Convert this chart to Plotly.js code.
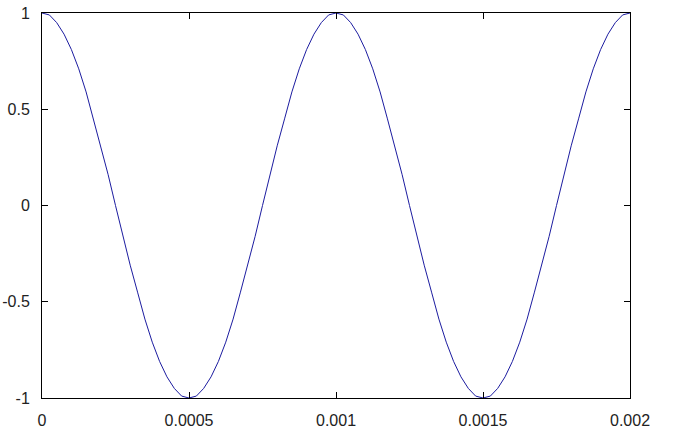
<!DOCTYPE html>
<html>
<head>
<meta charset="utf-8">
<script src="https://cdn.plot.ly/plotly-3.0.1.min.js"></script>
<style>html,body{margin:0;padding:0;background:#fff;}#chart{width:675px;height:440px;}</style>
</head>
<body>
<div id="chart"></div>
<script>
// time samples (s)
var timeValues = [
  0, 0.000025, 0.00005, 0.000075, 0.0001, 0.000125, 0.00015, 0.000175, 0.0002, 0.000225,
  0.00025, 0.000275, 0.0003, 0.000325, 0.00035, 0.000375, 0.0004, 0.000425, 0.00045, 0.000475,
  0.0005, 0.000525, 0.00055, 0.000575, 0.0006, 0.000625, 0.00065, 0.000675, 0.0007, 0.000725,
  0.00075, 0.000775, 0.0008, 0.000825, 0.00085, 0.000875, 0.0009, 0.000925, 0.00095, 0.000975,
  0.001, 0.001025, 0.00105, 0.001075, 0.0011, 0.001125, 0.00115, 0.001175, 0.0012, 0.001225,
  0.00125, 0.001275, 0.0013, 0.001325, 0.00135, 0.001375, 0.0014, 0.001425, 0.00145, 0.001475,
  0.0015, 0.001525, 0.00155, 0.001575, 0.0016, 0.001625, 0.00165, 0.001675, 0.0017, 0.001725,
  0.00175, 0.001775, 0.0018, 0.001825, 0.00185, 0.001875, 0.0019, 0.001925, 0.00195, 0.001975,
  0.002
];
// signal values
var signalValues = [
  1.00, 0.99, 0.95, 0.89, 0.81, 0.71, 0.59, 0.45, 0.31, 0.16,
  0.00, -0.16, -0.31, -0.45, -0.59, -0.71, -0.81, -0.89, -0.95, -0.99,
  -1.00, -0.99, -0.95, -0.89, -0.81, -0.71, -0.59, -0.45, -0.31, -0.16,
  0.00, 0.16, 0.31, 0.45, 0.59, 0.71, 0.81, 0.89, 0.95, 0.99,
  1.00, 0.99, 0.95, 0.89, 0.81, 0.71, 0.59, 0.45, 0.31, 0.16,
  0.00, -0.16, -0.31, -0.45, -0.59, -0.71, -0.81, -0.89, -0.95, -0.99,
  -1.00, -0.99, -0.95, -0.89, -0.81, -0.71, -0.59, -0.45, -0.31, -0.16,
  0.00, 0.16, 0.31, 0.45, 0.59, 0.71, 0.81, 0.89, 0.95, 0.99,
  1.00
];
var xTickValues = [0, 0.0005, 0.001, 0.0015, 0.002];
var xTickLabels = ["0", "0.0005", "0.001", "0.0015", "0.002"];
var yTickValues = [-1, -0.5, 0, 0.5, 1];
var yTickLabels = ["-1", "-0.5", "0", "0.5", "1"];

var trace = {
  x: timeValues,
  y: signalValues,
  type: 'scatter',
  mode: 'lines',
  line: {color: '#1c1ca0', width: 1},
  hoverinfo: 'none'
};

var axisCommon = {
  showgrid: false,
  zeroline: false,
  showline: true,
  linecolor: '#000',
  linewidth: 1,
  mirror: 'ticks',
  ticks: 'inside',
  ticklen: 6,
  tickwidth: 1,
  tickcolor: '#000',
  tickmode: 'array',
  tickfont: {family: 'Liberation Sans, Arial, sans-serif', size: 16, color: '#222'}
};

var layout = {
  width: 675,
  height: 440,
  margin: {l: 42, r: 45, t: 13, b: 42, pad: 0},
  paper_bgcolor: '#fff',
  plot_bgcolor: '#fff',
  showlegend: false,
  xaxis: Object.assign({}, axisCommon, {
    range: [0, 0.002],
    tickvals: xTickValues,
    ticktext: xTickLabels,
    ticklabelstandoff: 8
  }),
  yaxis: Object.assign({}, axisCommon, {
    range: [-1, 1],
    tickvals: yTickValues,
    ticktext: yTickLabels,
    ticklabelstandoff: 8
  })
};

Plotly.newPlot('chart', [trace], layout, {staticPlot: true, displayModeBar: false});
</script>
</body>
</html>
